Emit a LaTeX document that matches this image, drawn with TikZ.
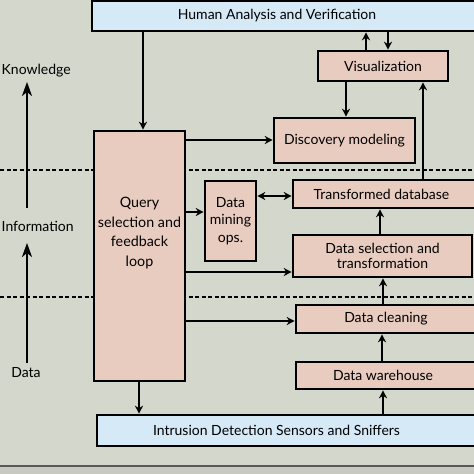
\documentclass[tikz,border=0pt]{standalone}
\usepackage{fontspec}
\setmainfont{Lato}
\usetikzlibrary{arrows.meta}
\definecolor{bgc}{RGB}{212,215,203}
\definecolor{pinkc}{RGB}{233,204,192}
\definecolor{bluec}{RGB}{214,233,247}
\definecolor{botc}{RGB}{200,201,192}
\begin{document}
\begin{tikzpicture}[x=1pt,y=-1pt,
  box/.style={draw=black, line width=2.6pt, inner sep=0pt, font=\fontsize{14}{15}\selectfont, align=center},
  pbox/.style={box, fill=pinkc},
  bbox/.style={box, fill=bluec},
  arr/.style={line width=2pt, -{Stealth[length=8pt,width=8pt]}},
  darr/.style={line width=2pt, {Stealth[length=8pt,width=8pt]}-{Stealth[length=8pt,width=8pt]}},
  big/.style={line width=2.2pt, -{Stealth[length=14pt,width=10pt,inset=4pt]}},
  dsh/.style={line width=1.5pt, dash pattern=on 4pt off 2.5pt},
  lab/.style={font=\fontsize{14}{16}\selectfont, inner sep=0pt},
  side/.style={font=\fontsize{14}{16}\selectfont, inner sep=0pt}]
\useasboundingbox (0,0) rectangle (474,474);
\clip (0,0) rectangle (474,474);
\fill[bgc] (0,0) rectangle (474,474);
\fill[botc] (0,466) rectangle (474,474);
\draw[gray!70!black, line width=2pt] (0,466) -- (474,466);
% helper coordinates
\coordinate (cA) at (143,0);
\coordinate (cB) at (139,0);
\coordinate (cV1) at (366,0);
\coordinate (cV2) at (388,0);
\coordinate (cVD) at (346,0);
\coordinate (cTV) at (423,0);
\coordinate (cT) at (380,0);
\coordinate (cS) at (383,0);
\coordinate (cC) at (382,0);
\coordinate (cI) at (383,0);
\coordinate (r1) at (0,140);
\coordinate (r2) at (0,212);
\coordinate (r3) at (0,272);
\coordinate (r4) at (0,321);
\coordinate (r5) at (0,196);
% dashed separators
\draw[dsh] (0,170) -- (474,170);
\draw[dsh] (0,297) -- (474,297);
% boxes
\node[bbox, minimum width=392pt, minimum height=30pt, label={[lab,xshift=-11pt]center:Human Analysis and Verification}] (hum) at (288,16) {};
\node[pbox, minimum width=130pt, minimum height=30pt] (viz) at (383,66) {Visualization};
\node[pbox, minimum width=141pt, minimum height=45pt] (disc) at (344.5,140.5) {Discovery modeling};
\node[pbox, minimum width=91pt, minimum height=250pt, label={[lab,font=\fontsize{14.3}{19.5}\selectfont,align=center,yshift=23pt]center:Query\\selection and\\feedback\\loop}] (query) at (139.5,256) {};
\node[pbox, minimum width=51pt, minimum height=80pt, font=\fontsize{14}{17.5}\selectfont] (dm) at (230.5,221) {Data\\mining\\ops.};
\node[pbox, minimum width=191pt, minimum height=28pt, label={[lab,xshift=-7pt]center:Transformed database}] (tdb) at (388.5,194) {};
\node[pbox, minimum width=179pt, minimum height=42pt] (dsel) at (382.5,256) {Data selection and\\transformation};
\node[pbox, minimum width=188pt, minimum height=28pt, label={[lab,xshift=-4pt]center:Data cleaning}] (dcl) at (390,319) {};
\node[pbox, minimum width=188pt, minimum height=27pt, label={[lab,xshift=-7pt]center:Data warehouse}] (dwh) at (390,375.5) {};
\node[bbox, minimum width=387pt, minimum height=31pt, label={[lab,xshift=-14pt]center:Intrusion Detection Sensors and Sniffers}] (ids) at (290.5,430.5) {};
% connectors
\draw[arr] (hum.south -| cA) -- (query.north -| cA);
\draw[arr] (query.south -| cB) -- (ids.north -| cB);
\draw[arr] (viz.north -| cV1) -- (hum.south -| cV1);
\draw[arr] (hum.south -| cV2) -- (viz.north -| cV2);
\draw[arr] (viz.south -| cVD) -- (disc.north -| cVD);
\draw[arr] (tdb.north -| cTV) -- (viz.south -| cTV);
\draw[arr] (query.east |- r1) -- (disc.west |- r1);
\draw[arr] (query.east |- r2) -- (dm.west |- r2);
\draw[arr] (query.east |- r3) -- (dsel.west |- r3);
\draw[arr] (query.east |- r4) -- (dcl.west |- r4);
\draw[darr] (dm.east |- r5) -- (tdb.west |- r5);
\draw[arr] (dsel.north -| cT) -- (tdb.south -| cT);
\draw[arr] (dcl.north -| cS) -- (dsel.south -| cS);
\draw[arr] (dwh.north -| cC) -- (dcl.south -| cC);
\draw[arr] (ids.north -| cI) -- (dwh.south -| cI);
% left scale
\node[side, anchor=west] (kn) at (1.5,71) {Knowledge};
\node[side, anchor=west] (inf) at (1.5,226) {Information};
\node[side] (dat) at (26,373) {Data};
\coordinate (k1) at (27,208);
\coordinate (k2) at (27,82);
\coordinate (i1) at (27,363);
\coordinate (i2) at (27,243);
\draw[big] (k1) -- (k2);
\draw[big] (i1) -- (i2);
\end{tikzpicture}
\end{document}
